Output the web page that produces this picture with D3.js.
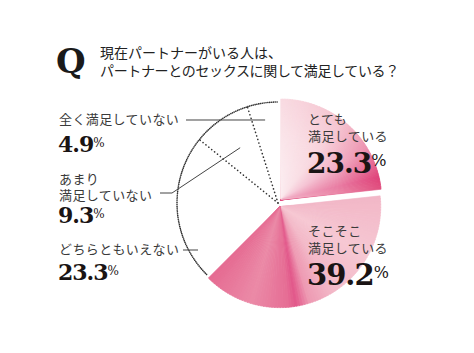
<!DOCTYPE html>
<html>
<head>
<meta charset="utf-8">
<script src="https://cdn.jsdelivr.net/npm/d3@7"></script>
<style>
  body { margin: 0; background: #fff; }
  svg { display: block; }
</style>
</head>
<body>
<svg id="chart" width="474" height="353"></svg>
<script>
// データ
const categories = ["とても満足している", "そこそこ満足している", "どちらともいえない", "あまり満足していない", "全く満足していない"]
const values = [23.3, 39.2, 23.3, 9.3, 4.9]
const labelLines = [["とても", "満足している"], ["そこそこ", "満足している"], ["どちらともいえない"], ["あまり", "満足していない"], ["全く満足していない"]]
const titleLines = ["現在パートナーがいる人は、", "パートナーとのセックスに関して満足している？"]

const W = 474, H = 353
const cx = 278, cy = 203, R = 101
const explode = 4
const sans = "'Noto Sans CJK JP', 'Noto Sans', sans-serif"
const numFont = "'DejaVu Serif', serif"

const svg = d3.select("#chart")

// タイトル
svg.append("text")
    .attr("x", 56).attr("y", 73)
    .style("font", "bold 34px " + numFont)
    .attr("fill", "#1a1a1a")
    .text("Q")

svg.append("g").selectAll("text")
    .data(titleLines)
    .join("text")
    .attr("x", 100)
    .attr("y", (d, i) => 58 + i * 18)
    .style("font", "14px " + sans)
    .attr("fill", "#222")
    .attr("letter-spacing", (d, i) => i ? -0.35 : 0)
    .text(d => d)

// パイ
const pie = d3.pie().sort(null).value(d => d)
const arcs = pie(values)
const arc = d3.arc().innerRadius(0).outerRadius(R)

// 色の変化 (角度方向)
const sliceColors = [
    { stops: [0, 0.45, 0.7, 0.92, 1], colors: ["#f9dbe2", "#f5c3cf", "#ed93b0", "#df4279", "#e0507f"] },
    { stops: [0, 0.25, 0.45, 0.56, 0.615, 0.65, 0.8, 1], colors: ["#f2b7c7", "#f6c8d3", "#f3b9c8", "#ee9ab3", "#e2588a", "#e66e95", "#eb8aa7", "#e56a91"] }
]

const defs = svg.append("defs")

const pieG = svg.append("g").attr("transform", `translate(${cx},${cy})`)

arcs.slice(0, 2).forEach((s, k) => {
    const mid = (s.startAngle + s.endAngle) / 2
    const ox = Math.sin(mid) * explode, oy = -Math.cos(mid) * explode
    const g = pieG.append("g").attr("transform", `translate(${ox},${oy})`)
    const cs = sliceColors[k]
    const col = d3.scaleLinear().domain(cs.stops).range(cs.colors).interpolate(d3.interpolateRgb)
    const n = 90
    const span = s.endAngle - s.startAngle
    d3.range(n).forEach(i => {
        const a0 = s.startAngle + span * i / n
        const a1 = Math.min(s.endAngle, s.startAngle + span * (i + 1) / n + 0.006)
        const c = col((i + 0.5) / n)
        g.append("path")
            .attr("d", arc({ startAngle: a0, endAngle: a1 }))
            .attr("fill", c)
            .attr("stroke", c)
            .attr("stroke-width", 0.6)
            .attr("stroke-linejoin", "bevel")
    })
    if (k === 0) {
        const rg = defs.append("radialGradient")
            .attr("id", "glow0")
            .attr("gradientUnits", "userSpaceOnUse")
            .attr("cx", 0).attr("cy", 0).attr("r", R)
        rg.append("stop").attr("offset", 0).attr("stop-color", "#fff").attr("stop-opacity", 0.6)
        rg.append("stop").attr("offset", 0.6).attr("stop-color", "#fff").attr("stop-opacity", 0.3)
        rg.append("stop").attr("offset", 1).attr("stop-color", "#fff").attr("stop-opacity", 0)
        g.append("path").attr("d", arc(s)).attr("fill", "url(#glow0)")
    }
})

// 点線の部分
const dotArc = d3.arc().innerRadius(R).outerRadius(R)
const dotStyle = sel => sel
    .attr("fill", "none")
    .attr("stroke", "#333")
    .attr("stroke-width", 1.6)
    .attr("stroke-linecap", "round")
    .attr("stroke-dasharray", "0.1 3.6")

pieG.append("path")
    .attr("d", dotArc({ startAngle: arcs[2].startAngle, endAngle: arcs[4].endAngle }))
    .call(dotStyle)

arcs.slice(3).forEach(s => {
    pieG.append("line")
        .attr("x1", 0).attr("y1", 0)
        .attr("x2", Math.sin(s.startAngle) * R)
        .attr("y2", -Math.cos(s.startAngle) * R)
        .call(dotStyle)
})

// ラベル
const layout = [
    { x: 308, y: 124, gap: 17, numY: 173, size: 28, pct: 16, dy: -7 },
    { x: 308, y: 236, gap: 17, numY: 285, size: 29, pct: 16, dy: -7 },
    { x: 59, y: 254, gap: 16, numY: 280, size: 22, pct: 12, dy: -5 },
    { x: 59, y: 184, gap: 16, numY: 223, size: 22, pct: 12, dy: -5 },
    { x: 59, y: 124, gap: 16, numY: 152, size: 22, pct: 12, dy: -5 }
]

const labelG = svg.append("g")
categories.forEach((c, i) => {
    const L = layout[i]
    labelLines[i].forEach((line, j) => {
        labelG.append("text")
            .attr("x", L.x)
            .attr("y", L.y + j * L.gap)
            .style("font", "13px " + sans)
            .attr("letter-spacing", 0.4)
            .attr("fill", "#3a3a3a")
            .text(line)
    })

    const t = labelG.append("text")
        .attr("x", L.x - 1).attr("y", L.numY)
        .style("font", `bold ${L.size}px ${numFont}`)
        .attr("letter-spacing", -1)
        .attr("fill", "#1a1414")
    t.append("tspan").text(values[i].toFixed(1))
    t.append("tspan")
        .attr("dy", L.dy)
        .style("font", `${L.pct}px ${numFont}`)
        .attr("letter-spacing", 0)
        .text("%")
})

// 引き出し線
const leader = d3.line()
const polar = (a, r) => [cx + Math.sin(a) * r, cy - Math.cos(a) * r]
const leaders = [
    [[186, 120], polar((arcs[4].startAngle + arcs[4].endAngle) / 2, 84)],
    [[160, 193], [172, 193], polar((arcs[3].startAngle + arcs[3].endAngle) / 2, 67)],
    [[183, 250], [198, 250]]
]
svg.append("g").selectAll("path")
    .data(leaders)
    .join("path")
    .attr("d", d => leader(d))
    .attr("fill", "none")
    .attr("stroke", "#444")
    .attr("stroke-width", 1)
</script>
</body>
</html>
